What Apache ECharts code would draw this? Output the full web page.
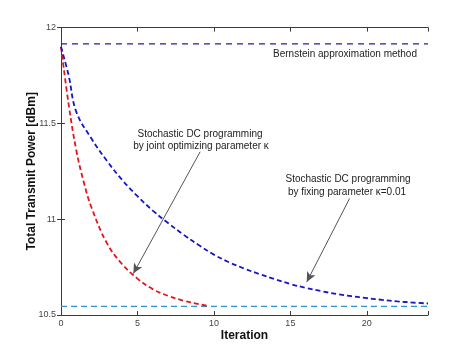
<!DOCTYPE html>
<html><head><meta charset="utf-8">
<script src="https://cdn.jsdelivr.net/npm/echarts@6/dist/echarts.min.js"></script>
<style>html,body{margin:0;padding:0;background:#fff}#c{width:474px;height:355px}</style>
</head><body><div id="c"></div>
<script>
// Data
const redX = [0, 0.5, 1, 1.5, 2, 3, 4, 5, 6, 7, 8, 9, 9.6];
const redY = [11.9, 11.6, 11.36, 11.19, 11.06, 10.875, 10.765, 10.69, 10.635, 10.6, 10.575, 10.557, 10.547];
const blueX = [0, 0.5, 1, 2, 3, 4, 5, 6, 7, 8, 9, 10, 11, 12, 13, 14, 15, 16, 17, 18, 19, 20, 21, 22, 23, 24];
const blueY = [11.9, 11.75, 11.56, 11.42, 11.305, 11.205, 11.12, 11.045, 10.98, 10.92, 10.865, 10.815, 10.775, 10.742, 10.713, 10.687, 10.662, 10.642, 10.625, 10.61, 10.598, 10.588, 10.579, 10.571, 10.565, 10.56];
const bernsteinY = 11.915;
const optimumY = 10.545;
const xRange = [0, 24];
const yRange = [10.5, 12];
const xTickStep = 5;
const yTickStep = 0.5;
const arrowJoint = [[9.1, 11.352], [4.73, 10.716]];
const arrowFixed = [[18.87, 11.108], [16.07, 10.672]];
const labelBern = 'Bernstein approximation method';
const labelJoint = ['Stochastic DC programming', 'by joint optimizing parameter \u03ba'];
const labelFixed = ['Stochastic DC programming', 'by fixing parameter \u03ba=0.01'];
const xName = 'Iteration';
const yName = 'Total Transmit Power [dBm]';

const pairs = (xs, ys) => xs.map((x, i) => [x, ys[i]]);
const FONT = 'Liberation Sans, Arial, sans-serif';
const axisColor = '#3a3a3a';

const chart = echarts.init(document.getElementById('c'), null, {renderer: 'canvas'});
const arrowLine = (seg) => ({
  silent: true, symbol: ['none', 'arrow'], symbolSize: [7, 10],
  label: {show: false},
  lineStyle: {color: '#555', width: 1, type: 'solid'},
  data: [[{coord: seg[0]}, {coord: seg[1]}]]
});
const opt = {
  animation: false,
  backgroundColor: '#fff',
  grid: {left: 61, right: 46, top: 27.6, bottom: 40, containLabel: false},
  xAxis: [{
    type: 'value', min: xRange[0], max: xRange[1], interval: xTickStep,
    name: xName, nameLocation: 'middle', nameGap: 15, nameMoveOverlap: false,
    nameTextStyle: {fontFamily: FONT, fontSize: 12, fontWeight: 'bold', color: '#111'},
    axisLine: {show: true, lineStyle: {color: axisColor, width: 1}},
    axisTick: {show: true, inside: true, length: 4, lineStyle: {color: axisColor}},
    axisLabel: {fontFamily: FONT, fontSize: 9, color: '#444', margin: 4,
      formatter: v => (v % xTickStep === 0 ? String(v) : '')},
    splitLine: {show: false}
  }, {
    type: 'value', position: 'top', min: xRange[0], max: xRange[1], interval: xTickStep,
    axisLine: {show: true, lineStyle: {color: axisColor, width: 1}},
    axisTick: {show: true, inside: true, length: 4, lineStyle: {color: axisColor}},
    axisLabel: {show: false}, splitLine: {show: false}
  }],
  yAxis: [{
    type: 'value', min: yRange[0], max: yRange[1], interval: yTickStep,
    name: yName, nameLocation: 'middle', nameGap: 23, nameRotate: 90, nameMoveOverlap: false,
    nameTextStyle: {fontFamily: FONT, fontSize: 12, fontWeight: 'bold', color: '#111'},
    axisLine: {show: true, lineStyle: {color: axisColor, width: 1}},
    axisTick: {show: true, inside: true, length: 4, lineStyle: {color: axisColor}},
    axisLabel: {fontFamily: FONT, fontSize: 9, color: '#444', margin: 5},
    splitLine: {show: false}
  }, {
    type: 'value', position: 'right', min: yRange[0], max: yRange[1], interval: yTickStep,
    axisLine: {show: true, lineStyle: {color: axisColor, width: 1}},
    axisTick: {show: true, inside: true, length: 4, lineStyle: {color: axisColor}},
    axisLabel: {show: false}, splitLine: {show: false}
  }],
  series: [
    {type: 'line', data: [[xRange[0], bernsteinY], [xRange[1], bernsteinY]], showSymbol: false,
      lineStyle: {color: '#23238c', width: 1.4, type: [6, 5]}, z: 3},
    {type: 'line', data: [[xRange[0], optimumY], [xRange[1], optimumY]], showSymbol: false,
      lineStyle: {color: '#2a96d2', width: 1.4, type: [6, 4]}, z: 2},
    {type: 'line', data: pairs(redX, redY), smooth: 0.4, showSymbol: false,
      lineStyle: {color: '#e4141e', width: 1.8, type: [5, 3]}, z: 4},
    {type: 'line', data: pairs(blueX, blueY), smooth: 0.4, showSymbol: false,
      lineStyle: {color: '#1616c8', width: 1.8, type: [5, 3]}, z: 4,
      markLine: arrowLine(arrowJoint)},
    {type: 'line', data: [], markLine: arrowLine(arrowFixed)}
  ],
  graphic: [
    {type: 'text', x: 345, y: 54, style: {text: labelBern, font: '10px ' + FONT, fill: '#222', textAlign: 'center', textVerticalAlign: 'middle'}},
    {type: 'text', x: 200, y: 134, style: {text: labelJoint[0], font: '10px ' + FONT, fill: '#222', textAlign: 'center', textVerticalAlign: 'middle'}},
    {type: 'text', x: 201, y: 146, style: {text: labelJoint[1], font: '10px ' + FONT, fill: '#222', textAlign: 'center', textVerticalAlign: 'middle'}},
    {type: 'text', x: 348, y: 179, style: {text: labelFixed[0], font: '10px ' + FONT, fill: '#222', textAlign: 'center', textVerticalAlign: 'middle'}},
    {type: 'text', x: 347, y: 192, style: {text: labelFixed[1], font: '10px ' + FONT, fill: '#222', textAlign: 'center', textVerticalAlign: 'middle'}}
  ]
};
chart.setOption(opt);
</script></body></html>
